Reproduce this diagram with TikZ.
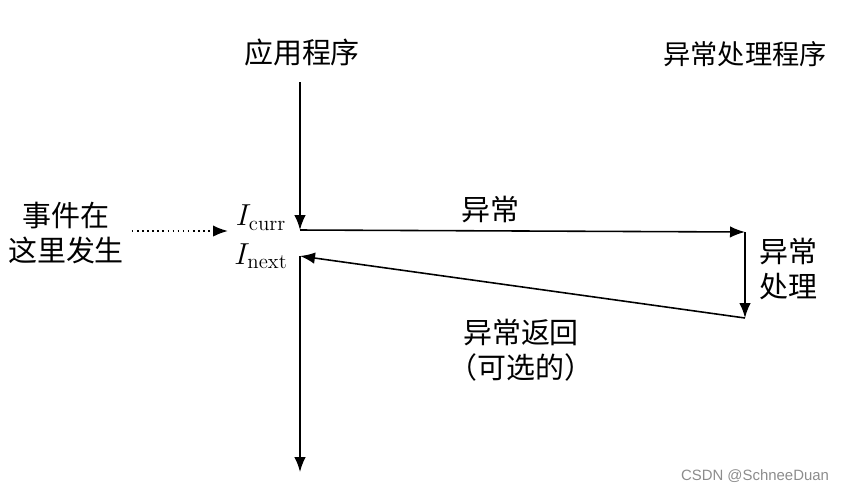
\documentclass[tikz,border=0pt]{standalone}
\usepackage{fontspec}
\usepackage{amsmath}
\newfontfamily\cjk{Noto Sans CJK SC}
\setsansfont{Liberation Sans}
\usetikzlibrary{positioning, arrows.meta}

\tikzset{
    flow/.style={line width=0.9pt, -{Latex[length=3mm, width=2.3mm]}},
    cnlabel/.style={font=\cjk\fontsize{16.5}{20}\selectfont, inner sep=2pt, align=center},
    instr/.style={font=\fontsize{17}{19}\selectfont, inner sep=1pt}
}

\begin{document}
\begin{tikzpicture}[x=0.02cm, y=-0.02cm]
        \useasboundingbox (0,0) rectangle (845,491);
        % program line and handler points
        \coordinate (top) at (300,82);
        \coordinate (curr) at (300,230);
        \coordinate (next) at (300,256);
        \coordinate (bottom) at (300,472);
        \coordinate (hin) at (745,232);
        \coordinate (hout) at (745,318);
        \coordinate (dotend) at (228,231);
        % labels
        \node[cnlabel] (app) at (302,52) {应用程序};
        \node[cnlabel, font=\cjk\fontsize{15.5}{20}\selectfont] (handler) at (745,54) {异常处理程序};
        \node[cnlabel] (event) at (66,233) {事件在\\这里发生};
        \node[instr] (Icurr) at (261,218) {$I_{\mathrm{curr}}$};
        \node[instr] (Inext) at (261,256) {$I_{\mathrm{next}}$};
        \node[cnlabel] (exc) at (490,210) {异常};
        \node[cnlabel] (handle) at (788,269) {异常\\处理};
        \node[cnlabel] (ret) at (521,350) {异常返回\\（可选的）};
        \node[font=\sffamily\fontsize{8.5}{10}\selectfont, text=black!45] (mark) at (755,476) {CSDN @SchneeDuan};
        % arrows
        \draw[flow] (top) -- (curr);
        \draw[flow] (curr) -- (hin);
        \draw[flow] (hin) -- (hout);
        \draw[flow] (hout) -- (next);
        \draw[flow] (next) -- (bottom);
        \draw[flow, dotted, line width=1.1pt] (event.east) ++(4,-2) -- (dotend);
\end{tikzpicture}
\end{document}
